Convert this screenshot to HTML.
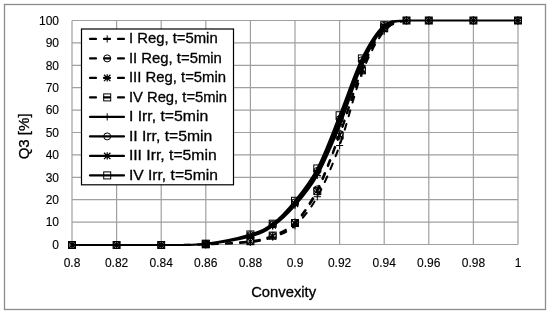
<!DOCTYPE html><html><head><meta charset="utf-8"><style>html,body{margin:0;padding:0;background:#fff;}svg{display:block;}text{font-family:"Liberation Sans",sans-serif;fill:#000;stroke:#000;stroke-width:0.3px;}text.t{stroke-width:0.12px;}</style></head><body>
<svg width="550" height="315" viewBox="0 0 550 315">
<rect x="0" y="0" width="550" height="315" fill="#fff"/>
<rect x="4.5" y="4.5" width="541" height="305" fill="none" stroke="#8c8c8c" stroke-width="1.3"/>
<path d="M72.0,244.50H518.0 M72.0,222.10H518.0 M72.0,199.70H518.0 M72.0,177.30H518.0 M72.0,154.90H518.0 M72.0,132.50H518.0 M72.0,110.10H518.0 M72.0,87.70H518.0 M72.0,65.30H518.0 M72.0,42.90H518.0 M72.0,20.50H518.0 M72.00,20.5V244.5 M116.60,20.5V244.5 M161.20,20.5V244.5 M205.80,20.5V244.5 M250.40,20.5V244.5 M295.00,20.5V244.5 M339.60,20.5V244.5 M384.20,20.5V244.5 M428.80,20.5V244.5 M473.40,20.5V244.5 M518.00,20.5V244.5" stroke="#a0a0a0" stroke-width="1.2" fill="none"/>
<text x="59" y="248.80" font-size="12" text-anchor="end" class="t">0</text>
<text x="59" y="226.40" font-size="12" text-anchor="end" class="t">10</text>
<text x="59" y="204.00" font-size="12" text-anchor="end" class="t">20</text>
<text x="59" y="181.60" font-size="12" text-anchor="end" class="t">30</text>
<text x="59" y="159.20" font-size="12" text-anchor="end" class="t">40</text>
<text x="59" y="136.80" font-size="12" text-anchor="end" class="t">50</text>
<text x="59" y="114.40" font-size="12" text-anchor="end" class="t">60</text>
<text x="59" y="92.00" font-size="12" text-anchor="end" class="t">70</text>
<text x="59" y="69.60" font-size="12" text-anchor="end" class="t">80</text>
<text x="59" y="47.20" font-size="12" text-anchor="end" class="t">90</text>
<text x="59" y="24.80" font-size="12" text-anchor="end" class="t">100</text>
<text x="72.00" y="267.0" font-size="12" text-anchor="middle" class="t">0.8</text>
<text x="116.60" y="267.0" font-size="12" text-anchor="middle" class="t">0.82</text>
<text x="161.20" y="267.0" font-size="12" text-anchor="middle" class="t">0.84</text>
<text x="205.80" y="267.0" font-size="12" text-anchor="middle" class="t">0.86</text>
<text x="250.40" y="267.0" font-size="12" text-anchor="middle" class="t">0.88</text>
<text x="295.00" y="267.0" font-size="12" text-anchor="middle" class="t">0.9</text>
<text x="339.60" y="267.0" font-size="12" text-anchor="middle" class="t">0.92</text>
<text x="384.20" y="267.0" font-size="12" text-anchor="middle" class="t">0.94</text>
<text x="428.80" y="267.0" font-size="12" text-anchor="middle" class="t">0.96</text>
<text x="473.40" y="267.0" font-size="12" text-anchor="middle" class="t">0.98</text>
<text x="518.00" y="267.0" font-size="12" text-anchor="middle" class="t">1</text>
<text x="283.65" y="297.2" font-size="14.4" text-anchor="middle" textLength="65" lengthAdjust="spacingAndGlyphs">Convexity</text>
<text transform="translate(29.2,136.4) rotate(-90)" font-size="14.4" text-anchor="middle" textLength="45.9" lengthAdjust="spacingAndGlyphs">Q3 [%]</text>
<path d="M161.20,245.00 C176.07,244.93 190.93,245.04 205.80,244.55 C220.67,244.06 239.25,243.32 250.40,242.08 C261.55,240.85 265.27,239.87 272.70,237.14 C280.13,234.41 287.57,232.43 295.00,225.69 C302.43,218.96 309.87,210.09 317.30,196.73 C324.73,183.37 332.17,166.13 339.60,145.55 C347.03,124.97 354.47,92.30 361.90,73.26 C369.33,54.21 376.77,40.07 384.20,31.28 C391.63,22.48 399.07,22.30 406.50,20.50 M161.20,245.00 C176.07,244.89 190.93,244.93 205.80,244.33 C220.67,243.73 239.25,242.83 250.40,241.41 C261.55,239.99 265.27,238.94 272.70,235.80 C280.13,232.65 287.57,230.30 295.00,222.55 C302.43,214.80 309.87,204.10 317.30,189.32 C324.73,174.54 332.17,153.89 339.60,133.87 C347.03,113.85 354.47,86.80 361.90,69.22 C369.33,51.63 376.77,36.48 384.20,28.36 C391.63,20.24 399.07,21.81 406.50,20.50 M161.20,245.00 C176.07,244.93 190.93,245.11 205.80,244.55 C220.67,243.99 239.25,243.02 250.40,241.63 C261.55,240.25 265.27,239.28 272.70,236.24 C280.13,233.21 287.57,231.04 295.00,223.45 C302.43,215.85 309.87,205.41 317.30,190.67 C324.73,175.93 332.17,155.13 339.60,135.00 C347.03,114.86 354.47,87.55 361.90,69.89 C369.33,52.23 376.77,37.26 384.20,29.03 C391.63,20.80 399.07,21.92 406.50,20.50 M161.20,245.00 C176.07,244.89 190.93,244.96 205.80,244.33 C220.67,243.69 239.25,242.64 250.40,241.18 C261.55,239.72 265.27,238.60 272.70,235.57 C280.13,232.54 287.57,230.41 295.00,223.00 C302.43,215.59 309.87,205.71 317.30,191.12 C324.73,176.53 332.17,155.57 339.60,135.44 C347.03,115.31 354.47,88.22 361.90,70.34 C369.33,52.45 376.77,36.44 384.20,28.13 C391.63,19.83 399.07,21.77 406.50,20.50" stroke="#000" stroke-width="2.0" fill="none" stroke-linejoin="round" stroke-linecap="round" stroke-dasharray="6 8" stroke-dashoffset="89.20"/>
<path d="M72.00,245.00H161.20M406.50,20.50H518.00" stroke="#000" stroke-width="2.0" fill="none" stroke-linecap="round"/>
<path d="M161.20,245.00 C176.07,244.85 190.93,245.52 205.80,244.10 C220.67,242.68 239.25,239.46 250.40,236.47 C261.55,233.48 265.27,231.31 272.70,226.14 C280.13,220.98 287.57,213.94 295.00,205.49 C302.43,197.03 309.87,188.65 317.30,175.41 C324.73,162.16 332.17,144.35 339.60,126.02 C347.03,107.68 354.47,81.86 361.90,65.40 C369.33,48.94 376.77,34.72 384.20,27.24 C391.63,19.75 399.07,21.62 406.50,20.50 M161.20,245.00 C176.07,244.81 190.93,245.52 205.80,243.88 C220.67,242.23 239.25,238.38 250.40,235.12 C261.55,231.87 265.27,229.81 272.70,224.35 C280.13,218.88 287.57,211.25 295.00,202.34 C302.43,193.44 309.87,184.76 317.30,170.91 C324.73,157.07 332.17,137.73 339.60,119.28 C347.03,100.83 354.47,75.80 361.90,60.24 C369.33,44.67 376.77,32.51 384.20,25.89 C391.63,19.27 399.07,21.40 406.50,20.50 M161.20,245.00 C176.07,244.85 190.93,245.64 205.80,244.10 C220.67,242.57 239.25,238.94 250.40,235.80 C261.55,232.65 265.27,230.56 272.70,225.24 C280.13,219.93 287.57,212.60 295.00,203.92 C302.43,195.24 309.87,186.70 317.30,173.16 C324.73,159.62 332.17,140.98 339.60,122.65 C347.03,104.31 354.47,79.17 361.90,63.16 C369.33,47.14 376.77,33.67 384.20,26.56 C391.63,19.45 399.07,21.51 406.50,20.50 M161.20,245.00 C176.07,244.78 190.93,245.41 205.80,243.65 C220.67,241.89 239.25,237.78 250.40,234.45 C261.55,231.12 265.27,229.29 272.70,223.67 C280.13,218.06 287.57,209.98 295.00,200.77 C302.43,191.57 309.87,182.70 317.30,168.45 C324.73,154.19 332.17,133.57 339.60,115.24 C347.03,96.90 354.47,73.44 361.90,58.44 C369.33,43.44 376.77,31.54 384.20,25.21 C391.63,18.89 399.07,21.29 406.50,20.50" stroke="#000" stroke-width="2.0" fill="none" stroke-linejoin="round" stroke-linecap="round"/>
<path d="M68.40,245.00H75.60M72.00,241.40V248.60" stroke="#000" stroke-width="1.0" fill="none"/>
<path d="M113.00,245.00H120.20M116.60,241.40V248.60" stroke="#000" stroke-width="1.0" fill="none"/>
<path d="M157.60,245.00H164.80M161.20,241.40V248.60" stroke="#000" stroke-width="1.0" fill="none"/>
<path d="M202.20,244.55H209.40M205.80,240.95V248.15" stroke="#000" stroke-width="1.0" fill="none"/>
<path d="M246.80,242.08H254.00M250.40,238.48V245.68" stroke="#000" stroke-width="1.0" fill="none"/>
<path d="M269.10,237.14H276.30M272.70,233.54V240.74" stroke="#000" stroke-width="1.0" fill="none"/>
<path d="M291.40,225.69H298.60M295.00,222.09V229.29" stroke="#000" stroke-width="1.0" fill="none"/>
<path d="M313.70,196.73H320.90M317.30,193.13V200.33" stroke="#000" stroke-width="1.0" fill="none"/>
<path d="M336.00,145.55H343.20M339.60,141.95V149.15" stroke="#000" stroke-width="1.0" fill="none"/>
<path d="M358.30,73.26H365.50M361.90,69.66V76.86" stroke="#000" stroke-width="1.0" fill="none"/>
<path d="M380.60,31.28H387.80M384.20,27.68V34.88" stroke="#000" stroke-width="1.0" fill="none"/>
<path d="M402.90,20.50H410.10M406.50,16.90V24.10" stroke="#000" stroke-width="1.0" fill="none"/>
<path d="M425.20,20.50H432.40M428.80,16.90V24.10" stroke="#000" stroke-width="1.0" fill="none"/>
<path d="M469.80,20.50H477.00M473.40,16.90V24.10" stroke="#000" stroke-width="1.0" fill="none"/>
<path d="M514.40,20.50H521.60M518.00,16.90V24.10" stroke="#000" stroke-width="1.0" fill="none"/>
<circle cx="72.00" cy="245.00" r="3.5" stroke="#000" stroke-width="1.0" fill="none"/>
<circle cx="116.60" cy="245.00" r="3.5" stroke="#000" stroke-width="1.0" fill="none"/>
<circle cx="161.20" cy="245.00" r="3.5" stroke="#000" stroke-width="1.0" fill="none"/>
<circle cx="205.80" cy="244.33" r="3.5" stroke="#000" stroke-width="1.0" fill="none"/>
<circle cx="250.40" cy="241.41" r="3.5" stroke="#000" stroke-width="1.0" fill="none"/>
<circle cx="272.70" cy="235.80" r="3.5" stroke="#000" stroke-width="1.0" fill="none"/>
<circle cx="295.00" cy="222.55" r="3.5" stroke="#000" stroke-width="1.0" fill="none"/>
<circle cx="317.30" cy="189.32" r="3.5" stroke="#000" stroke-width="1.0" fill="none"/>
<circle cx="339.60" cy="133.87" r="3.5" stroke="#000" stroke-width="1.0" fill="none"/>
<circle cx="361.90" cy="69.22" r="3.5" stroke="#000" stroke-width="1.0" fill="none"/>
<circle cx="384.20" cy="28.36" r="3.5" stroke="#000" stroke-width="1.0" fill="none"/>
<circle cx="406.50" cy="20.50" r="3.5" stroke="#000" stroke-width="1.0" fill="none"/>
<circle cx="428.80" cy="20.50" r="3.5" stroke="#000" stroke-width="1.0" fill="none"/>
<circle cx="473.40" cy="20.50" r="3.5" stroke="#000" stroke-width="1.0" fill="none"/>
<circle cx="518.00" cy="20.50" r="3.5" stroke="#000" stroke-width="1.0" fill="none"/>
<path d="M68.80,241.80L75.20,248.20M68.80,248.20L75.20,241.80M72.00,241.30V248.70" stroke="#000" stroke-width="1.25" fill="none"/>
<path d="M113.40,241.80L119.80,248.20M113.40,248.20L119.80,241.80M116.60,241.30V248.70" stroke="#000" stroke-width="1.25" fill="none"/>
<path d="M158.00,241.80L164.40,248.20M158.00,248.20L164.40,241.80M161.20,241.30V248.70" stroke="#000" stroke-width="1.25" fill="none"/>
<path d="M202.60,241.35L209.00,247.75M202.60,247.75L209.00,241.35M205.80,240.85V248.25" stroke="#000" stroke-width="1.25" fill="none"/>
<path d="M247.20,238.43L253.60,244.83M247.20,244.83L253.60,238.43M250.40,237.93V245.33" stroke="#000" stroke-width="1.25" fill="none"/>
<path d="M269.50,233.04L275.90,239.44M269.50,239.44L275.90,233.04M272.70,232.54V239.94" stroke="#000" stroke-width="1.25" fill="none"/>
<path d="M291.80,220.25L298.20,226.65M291.80,226.65L298.20,220.25M295.00,219.75V227.15" stroke="#000" stroke-width="1.25" fill="none"/>
<path d="M314.10,187.47L320.50,193.87M314.10,193.87L320.50,187.47M317.30,186.97V194.37" stroke="#000" stroke-width="1.25" fill="none"/>
<path d="M336.40,131.80L342.80,138.19M336.40,138.19L342.80,131.80M339.60,131.30V138.69" stroke="#000" stroke-width="1.25" fill="none"/>
<path d="M358.70,66.69L365.10,73.09M358.70,73.09L365.10,66.69M361.90,66.19V73.59" stroke="#000" stroke-width="1.25" fill="none"/>
<path d="M381.00,25.83L387.40,32.23M381.00,32.23L387.40,25.83M384.20,25.33V32.73" stroke="#000" stroke-width="1.25" fill="none"/>
<path d="M403.30,17.30L409.70,23.70M403.30,23.70L409.70,17.30M406.50,16.80V24.20" stroke="#000" stroke-width="1.25" fill="none"/>
<path d="M425.60,17.30L432.00,23.70M425.60,23.70L432.00,17.30M428.80,16.80V24.20" stroke="#000" stroke-width="1.25" fill="none"/>
<path d="M470.20,17.30L476.60,23.70M470.20,23.70L476.60,17.30M473.40,16.80V24.20" stroke="#000" stroke-width="1.25" fill="none"/>
<path d="M514.80,17.30L521.20,23.70M514.80,23.70L521.20,17.30M518.00,16.80V24.20" stroke="#000" stroke-width="1.25" fill="none"/>
<rect x="68.50" y="241.50" width="7.00" height="7.00" stroke="#000" stroke-width="1.0" fill="none"/>
<rect x="113.10" y="241.50" width="7.00" height="7.00" stroke="#000" stroke-width="1.0" fill="none"/>
<rect x="157.70" y="241.50" width="7.00" height="7.00" stroke="#000" stroke-width="1.0" fill="none"/>
<rect x="202.30" y="240.83" width="7.00" height="7.00" stroke="#000" stroke-width="1.0" fill="none"/>
<rect x="246.90" y="237.68" width="7.00" height="7.00" stroke="#000" stroke-width="1.0" fill="none"/>
<rect x="269.20" y="232.07" width="7.00" height="7.00" stroke="#000" stroke-width="1.0" fill="none"/>
<rect x="291.50" y="219.50" width="7.00" height="7.00" stroke="#000" stroke-width="1.0" fill="none"/>
<rect x="313.80" y="187.62" width="7.00" height="7.00" stroke="#000" stroke-width="1.0" fill="none"/>
<rect x="336.10" y="131.94" width="7.00" height="7.00" stroke="#000" stroke-width="1.0" fill="none"/>
<rect x="358.40" y="66.84" width="7.00" height="7.00" stroke="#000" stroke-width="1.0" fill="none"/>
<rect x="380.70" y="24.63" width="7.00" height="7.00" stroke="#000" stroke-width="1.0" fill="none"/>
<rect x="403.00" y="17.00" width="7.00" height="7.00" stroke="#000" stroke-width="1.0" fill="none"/>
<rect x="425.30" y="17.00" width="7.00" height="7.00" stroke="#000" stroke-width="1.0" fill="none"/>
<rect x="469.90" y="17.00" width="7.00" height="7.00" stroke="#000" stroke-width="1.0" fill="none"/>
<rect x="514.50" y="17.00" width="7.00" height="7.00" stroke="#000" stroke-width="1.0" fill="none"/>
<path d="M202.20,244.10H209.40M205.80,240.50V247.70" stroke="#000" stroke-width="1.0" fill="none"/>
<path d="M246.80,236.47H254.00M250.40,232.87V240.07" stroke="#000" stroke-width="1.0" fill="none"/>
<path d="M269.10,226.14H276.30M272.70,222.54V229.74" stroke="#000" stroke-width="1.0" fill="none"/>
<path d="M291.40,205.49H298.60M295.00,201.89V209.09" stroke="#000" stroke-width="1.0" fill="none"/>
<path d="M313.70,175.41H320.90M317.30,171.81V179.00" stroke="#000" stroke-width="1.0" fill="none"/>
<path d="M336.00,126.02H343.20M339.60,122.42V129.62" stroke="#000" stroke-width="1.0" fill="none"/>
<path d="M358.30,65.40H365.50M361.90,61.80V69.00" stroke="#000" stroke-width="1.0" fill="none"/>
<path d="M380.60,27.24H387.80M384.20,23.64V30.84" stroke="#000" stroke-width="1.0" fill="none"/>
<circle cx="205.80" cy="243.88" r="3.5" stroke="#000" stroke-width="1.0" fill="none"/>
<circle cx="250.40" cy="235.12" r="3.5" stroke="#000" stroke-width="1.0" fill="none"/>
<circle cx="272.70" cy="224.35" r="3.5" stroke="#000" stroke-width="1.0" fill="none"/>
<circle cx="295.00" cy="202.34" r="3.5" stroke="#000" stroke-width="1.0" fill="none"/>
<circle cx="317.30" cy="170.91" r="3.5" stroke="#000" stroke-width="1.0" fill="none"/>
<circle cx="339.60" cy="119.28" r="3.5" stroke="#000" stroke-width="1.0" fill="none"/>
<circle cx="361.90" cy="60.24" r="3.5" stroke="#000" stroke-width="1.0" fill="none"/>
<circle cx="384.20" cy="25.89" r="3.5" stroke="#000" stroke-width="1.0" fill="none"/>
<path d="M202.60,240.90L209.00,247.30M202.60,247.30L209.00,240.90M205.80,240.40V247.80" stroke="#000" stroke-width="1.25" fill="none"/>
<path d="M247.20,232.60L253.60,239.00M247.20,239.00L253.60,232.60M250.40,232.10V239.50" stroke="#000" stroke-width="1.25" fill="none"/>
<path d="M269.50,222.04L275.90,228.44M269.50,228.44L275.90,222.04M272.70,221.54V228.94" stroke="#000" stroke-width="1.25" fill="none"/>
<path d="M291.80,200.72L298.20,207.12M291.80,207.12L298.20,200.72M295.00,200.22V207.62" stroke="#000" stroke-width="1.25" fill="none"/>
<path d="M314.10,169.96L320.50,176.36M314.10,176.36L320.50,169.96M317.30,169.46V176.86" stroke="#000" stroke-width="1.25" fill="none"/>
<path d="M336.40,119.45L342.80,125.85M336.40,125.85L342.80,119.45M339.60,118.95V126.35" stroke="#000" stroke-width="1.25" fill="none"/>
<path d="M358.70,59.95L365.10,66.36M358.70,66.36L365.10,59.95M361.90,59.45V66.86" stroke="#000" stroke-width="1.25" fill="none"/>
<path d="M381.00,23.36L387.40,29.76M381.00,29.76L387.40,23.36M384.20,22.86V30.26" stroke="#000" stroke-width="1.25" fill="none"/>
<rect x="202.30" y="240.15" width="7.00" height="7.00" stroke="#000" stroke-width="1.0" fill="none"/>
<rect x="246.90" y="230.95" width="7.00" height="7.00" stroke="#000" stroke-width="1.0" fill="none"/>
<rect x="269.20" y="220.17" width="7.00" height="7.00" stroke="#000" stroke-width="1.0" fill="none"/>
<rect x="291.50" y="197.27" width="7.00" height="7.00" stroke="#000" stroke-width="1.0" fill="none"/>
<rect x="313.80" y="164.95" width="7.00" height="7.00" stroke="#000" stroke-width="1.0" fill="none"/>
<rect x="336.10" y="111.74" width="7.00" height="7.00" stroke="#000" stroke-width="1.0" fill="none"/>
<rect x="358.40" y="54.94" width="7.00" height="7.00" stroke="#000" stroke-width="1.0" fill="none"/>
<rect x="380.70" y="21.71" width="7.00" height="7.00" stroke="#000" stroke-width="1.0" fill="none"/>
<rect x="81.5" y="29.0" width="152.0" height="155.8" fill="#fff" stroke="#000" stroke-width="1.2"/>
<path d="M90,38.90H96M104,38.90H110M118,38.90H124" stroke="#000" stroke-width="2.2" stroke-linecap="round" fill="none"/>
<path d="M103.60,38.90H110.80M107.20,35.30V42.50" stroke="#000" stroke-width="1.0" fill="none"/>
<text x="128.9" y="43.00" font-size="14.4" textLength="88.8" lengthAdjust="spacingAndGlyphs">I Reg, t=5min</text>
<path d="M90,58.40H96M104,58.40H110M118,58.40H124" stroke="#000" stroke-width="2.2" stroke-linecap="round" fill="none"/>
<circle cx="107.20" cy="58.40" r="3.5" stroke="#000" stroke-width="1.0" fill="none"/>
<text x="128.9" y="62.50" font-size="14.4" textLength="93.0" lengthAdjust="spacingAndGlyphs">II Reg, t=5min</text>
<path d="M90,77.90H96M104,77.90H110M118,77.90H124" stroke="#000" stroke-width="2.2" stroke-linecap="round" fill="none"/>
<path d="M104.00,74.70L110.40,81.10M104.00,81.10L110.40,74.70M107.20,74.20V81.60" stroke="#000" stroke-width="1.25" fill="none"/>
<text x="128.9" y="82.00" font-size="14.4" textLength="97.2" lengthAdjust="spacingAndGlyphs">III Reg, t=5min</text>
<path d="M90,97.40H96M104,97.40H110M118,97.40H124" stroke="#000" stroke-width="2.2" stroke-linecap="round" fill="none"/>
<rect x="103.70" y="93.90" width="7.00" height="7.00" stroke="#000" stroke-width="1.0" fill="none"/>
<text x="128.9" y="101.50" font-size="14.4" textLength="98.2" lengthAdjust="spacingAndGlyphs">IV Reg, t=5min</text>
<path d="M90,116.90H124" stroke="#000" stroke-width="2.2" stroke-linecap="round" fill="none"/>
<path d="M103.60,116.90H110.80M107.20,113.30V120.50" stroke="#000" stroke-width="1.0" fill="none"/>
<text x="128.9" y="121.00" font-size="14.4" textLength="79.4" lengthAdjust="spacingAndGlyphs">I Irr, t=5min</text>
<path d="M90,136.40H124" stroke="#000" stroke-width="2.2" stroke-linecap="round" fill="none"/>
<circle cx="107.20" cy="136.40" r="3.5" stroke="#000" stroke-width="1.0" fill="none"/>
<text x="128.9" y="140.50" font-size="14.4" textLength="83.4" lengthAdjust="spacingAndGlyphs">II Irr, t=5min</text>
<path d="M90,155.90H124" stroke="#000" stroke-width="2.2" stroke-linecap="round" fill="none"/>
<path d="M104.00,152.70L110.40,159.10M104.00,159.10L110.40,152.70M107.20,152.20V159.60" stroke="#000" stroke-width="1.25" fill="none"/>
<text x="128.9" y="160.00" font-size="14.4" textLength="87.8" lengthAdjust="spacingAndGlyphs">III Irr, t=5min</text>
<path d="M90,175.40H124" stroke="#000" stroke-width="2.2" stroke-linecap="round" fill="none"/>
<rect x="103.70" y="171.90" width="7.00" height="7.00" stroke="#000" stroke-width="1.0" fill="none"/>
<text x="128.9" y="179.50" font-size="14.4" textLength="89.0" lengthAdjust="spacingAndGlyphs">IV Irr, t=5min</text>
</svg></body></html>
